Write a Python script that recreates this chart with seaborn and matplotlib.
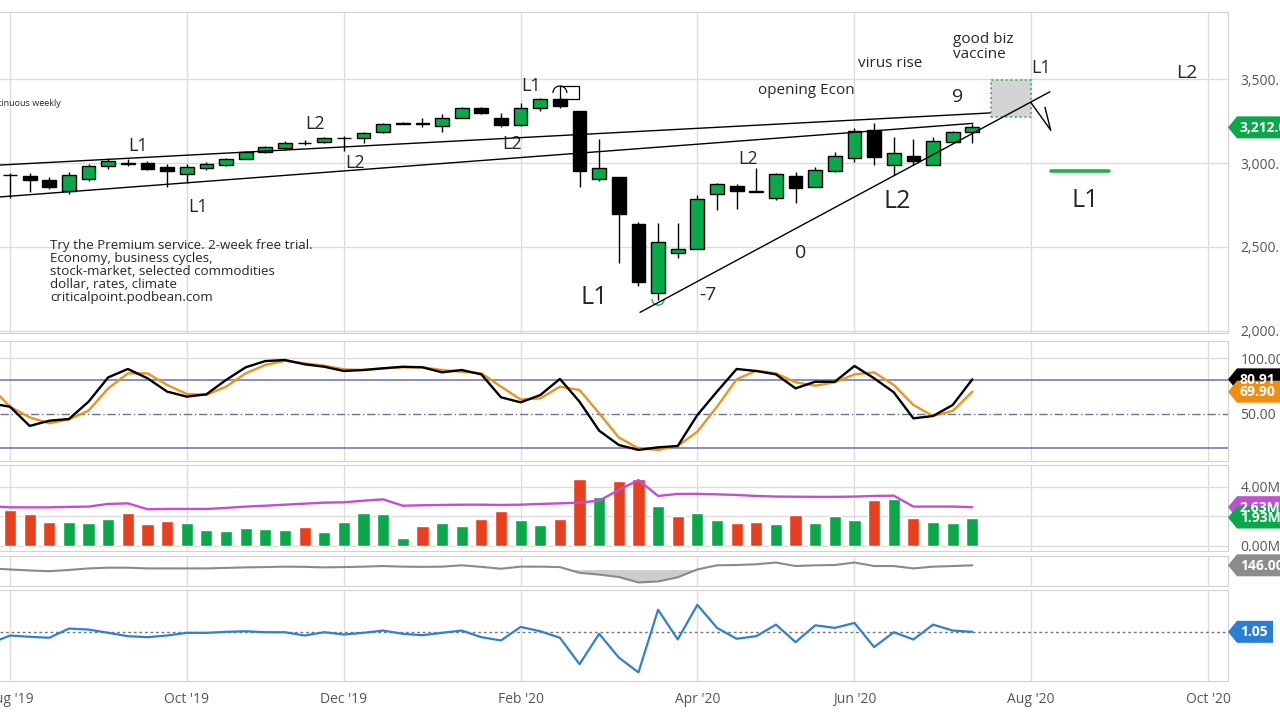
import numpy as np
import matplotlib
matplotlib.use('Agg')
import matplotlib.pyplot as plt
import seaborn as sns
from matplotlib.patches import Polygon, Rectangle, Arc
from matplotlib.transforms import IdentityTransform

# weekly candles, week 0 = first week of Aug 2019
opens = [2929, 2923, 2899, 2833, 2905, 2982, 2999, 3002, 2978, 2935,
         2968, 2988, 3024, 3065, 3091, 3122, 3123, 3148, 3147, 3183,
         3232, 3237, 3220, 3270, 3326, 3270, 3226, 3326, 3381, 3311,
         2903, 2918, 2637, 2228, 2467, 2488, 2814, 2865, 2831, 2794,
         2925, 2859, 2954, 3028, 3196, 2988, 3042, 2988, 3127, 3186]
closes = [2927, 2899, 2857, 2929, 2982, 3014, 2997, 2962, 2952, 2975,
          2994, 3022, 3065, 3093, 3121, 3120, 3147, 3146, 3177, 3230,
          3238, 3235, 3266, 3326, 3296, 3226, 3326, 3379, 3339, 2954,
          2968, 2696, 2294, 2528, 2486, 2783, 2873, 2835, 2829, 2932,
          2850, 2958, 3043, 3190, 3038, 3061, 3012, 3131, 3183, 3212]
highs = [2940, 2940, 2917, 2946, 2994, 3024, 3024, 3012, 2994, 2994,
         3008, 3032, 3071, 3101, 3131, 3137, 3157, 3160, 3186, 3236,
         3246, 3266, 3290, 3332, 3335, 3296, 3359, 3389, 3395, 3311,
         3141, 2918, 2651, 2640, 2641, 2810, 2883, 2873, 2968, 2938,
         2948, 2978, 3067, 3210, 3236, 3157, 3143, 3157, 3190, 3230]
lows = [2792, 2827, 2845, 2815, 2893, 2964, 2982, 2958, 2859, 2883,
        2958, 2982, 3022, 3061, 3077, 3107, 3117, 3073, 3121, 3181,
        3230, 3212, 3187, 3266, 3290, 3217, 3222, 3310, 3330, 2859,
        2893, 2403, 2268, 2185, 2433, 2488, 2720, 2724, 2825, 2780,
        2764, 2855, 2948, 3008, 2988, 2929, 2988, 2988, 3121, 3121]

volume = [2.44, 2.17, 1.65, 1.60, 1.54, 1.83, 2.21, 1.49, 1.69, 1.54,
          1.08, 1.04, 1.24, 1.15, 1.08, 1.27, 0.97, 1.65, 2.26, 2.15,
          0.56, 1.36, 1.58, 1.36, 1.83, 2.37, 1.76, 1.42, 1.81, 4.54,
          3.34, 4.43, 4.52, 2.73, 2.03, 2.21, 1.76, 1.58, 1.65, 1.47,
          2.10, 1.58, 2.03, 1.76, 3.12, 3.16, 1.88, 1.60, 1.54, 1.93]
vol_dir = list("rrrgggrrrggggggrggggg" "rggrrggrrgrrgrggrrgrgggrgrggg")

# indicator series start one week earlier (week -1)
stoch_k = [59.5, 56.5, 39.3, 44, 45.5, 61, 82.7, 90.2, 81.9, 70, 65.5,
           67.6, 80.4, 91.7, 97.3, 98.2, 94.4, 92.2, 88.4, 89.3, 90.8,
           92.2, 91.7, 87.2, 89.3, 85.4, 64.9, 60.4, 66.9, 81.3, 61,
           35.1, 22.3, 17.9, 20.2, 21.4, 49.1, 70, 90.2, 88.4, 85.4,
           72.9, 78.8, 78.8, 92.9, 81.9, 69.4, 46.1, 48.2, 58, 80.91]
stoch_d = [74.5, 56.5, 47, 41.7, 45.2, 53, 72.9, 86.3, 86.3, 75.9, 67.9,
           67, 74.4, 86.3, 93.8, 97.6, 95.2, 93.2, 89.9, 89.3, 90.8,
           91.7, 91.7, 89.3, 87.8, 86.3, 74.4, 63, 63.9, 74.4, 71.4,
           50.6, 29, 19.3, 17.9, 21.4, 34.2, 56.5, 81, 88.7, 86.3,
           78.3, 75.3, 78.3, 85.4, 87.2, 75.9, 58, 48.2, 52.7, 69.90]
vol_ma = [2.7, 2.62, 2.62, 2.62, 2.65, 2.67, 2.85, 2.89, 2.49, 2.51, 2.51,
          2.51, 2.58, 2.67, 2.73, 2.80, 2.87, 2.94, 2.96, 3.07, 3.16,
          2.73, 2.76, 2.78, 2.80, 2.80, 2.78, 2.80, 2.85, 2.89, 2.94,
          3.07, 3.80, 4.47, 3.39, 3.53, 3.53, 3.50, 3.46, 3.39, 3.35,
          3.34, 3.33, 3.33, 3.35, 3.39, 3.41, 2.67, 2.67, 2.67, 2.63]
force = [116, 106, 96, 89, 101, 116, 123, 123, 116, 116, 116,
         116, 121, 126, 129, 133, 131, 126, 129, 133, 139,
         133, 131, 133, 146, 131, 113, 133, 133, 129, 73,
         56, 33, -20, -10, 30, 106, 146, 149, 156, 173,
         139, 146, 149, 173, 139, 139, 116, 133, 139, 146]
ratio = [0.93, 1.01, 0.997, 0.987, 1.08, 1.07, 1.037, 1.003, 0.993, 1.01, 1.037,
         1.037, 1.047, 1.053, 1.043, 1.043, 1.01, 1.043, 1.02, 1.037, 1.06,
         1.027, 1.013, 1.037, 1.06, 0.993, 0.96, 1.097, 1.053, 0.987, 0.72,
         1.027, 0.787, 0.637, 1.27, 0.97, 1.32, 1.087, 0.977, 1.003, 1.12,
         0.943, 1.113, 1.087, 1.137, 0.893, 1.043, 0.97, 1.12, 1.06, 1.047]

tick_pos = [0, 9, 17, 26, 35, 43, 52, 61]
tick_labels = ["Aug '19", "Oct '19", "Dec '19", "Feb '20", "Apr '20",
               "Jun '20", "Aug '20", "Oct '20"]

# hand drawn trend lines (week, price)
upper_chan = ([-0.51, 49.9], [2988, 3298])
lower_chan = ([-0.51, 49.03], [2798, 3236])
support = ([32.08, 52.95], [2111, 3424])

weeks = np.arange(len(opens))
weeks_ind = np.arange(-1, len(opens))

sns.set_style('white')
plt.rcParams['font.family'] = ['Open Sans', 'DejaVu Sans']

GREEN = '#0ba84a'
RED = '#e8401f'
GRID = '#dcdcdc'
TXT = '#555555'
SLATE = '#6e6eb0'

fig = plt.figure(figsize=(12.8, 7.2), dpi=100)


def panel(top, bottom):
    ax = fig.add_axes([0, 1 - bottom / 720, 1228 / 1280, (bottom - top) / 720])
    ax.set_xlim(-0.51, 62.02)
    ax.set_xticks(tick_pos)
    ax.grid(axis='x', color=GRID, lw=1)
    ax.grid(axis='y', visible=False)
    for s in ax.spines.values():
        s.set_color('#d2d2d2')
    ax.spines['left'].set_visible(False)
    ax.tick_params(axis='x', length=0, labelbottom=False)
    ax.yaxis.tick_right()
    ax.tick_params(axis='y', length=0, pad=9, labelsize=10, labelcolor=TXT)
    return ax


# ---- price panel
ax_p = panel(12, 333)
ax_p.set_ylim(1988, 3899)
for v in [2000, 2500, 3000, 3500]:
    ax_p.axhline(v, color=GRID, lw=1, zorder=0)
ax_p.set_yticks([2000, 2500, 3000, 3500], ['2,000.00', '2,500.00', '3,000.00', '3,500.00'])

ax_p.vlines(weeks, lows, highs, color='black', lw=1, zorder=2)
body_lo = np.minimum(opens, closes)
body_h = np.maximum(np.abs(np.array(closes) - np.array(opens)), 2)
cols = [GREEN if c > o else 'black' for o, c in zip(opens, closes)]
ax_p.bar(weeks, body_h, bottom=body_lo, width=0.7, color=cols,
         edgecolor='black', linewidth=1, zorder=3)

for xs, ys in [upper_chan, lower_chan, support]:
    ax_p.plot(xs, ys, color='black', lw=1, zorder=4)
ax_p.plot([51.99, 52.99], [3359, 3196], color='black', lw=1)
ax_p.plot([52.7, 52.99], [3332, 3196], color='black', lw=1)
ax_p.add_patch(Rectangle((49.93, 3276), 2.06, 218, fc='#d4d4d4',
                         ec='#3cb35a', ls=':', lw=1.3, zorder=1))
ax_p.plot([52.99, 55.97], [2952, 2952], color='#22b04a', lw=2.6)
ax_p.add_patch(Arc((33, 2190), 0.62, 72, theta1=180, theta2=360, color='#22b04a', lw=1))
ax_p.add_patch(Rectangle((28.0, 3379), 0.99, 79, fill=False, ec='black', lw=0.9))
ax_p.add_patch(Arc((28, 3417), 0.71, 83, theta1=0, theta2=180, color='black', lw=0.9))

ax_p.text(-1.37, 3357, 'continuous weekly', fontsize=6.5, va='center', clip_on=True)
labels = [("L1", 6.52, 3101, 13), ("L1", 9.57, 2738, 13), ("L2", 15.53, 3232, 13),
          ("L2", 17.57, 3000, 13), ("L2", 25.56, 3113, 13), ("L1", 26.53, 3458, 13),
          ("L1", 29.74, 2202, 18), ("-7", 35.54, 2214, 14), ("L2", 37.58, 3024, 13),
          ("0", 40.27, 2464, 14), ("opening Econ", 40.53, 3429, 11),
          ("virus rise", 44.81, 3595, 11), ("9", 48.27, 3393, 14),
          ("L1", 52.5, 3565, 13), ("L2", 59.9, 3536, 14),
          ("L2", 45.16, 2768, 18), ("L1", 54.74, 2774, 18)]
for s, x, y, fs in labels:
    ax_p.text(x, y, s, fontsize=fs, ha='center', va='center')
ax_p.text(48.0, 3690, 'good biz\nvaccine', fontsize=11, ha='left', va='center',
          linespacing=1.0)
ax_p.text(2.04, 2550, 'Try the Premium service. 2-week free trial.\n'
          'Economy, business cycles,\nstock-market, selected commodities\n'
          'dollar, rates, climate\ncriticalpoint.podbean.com',
          fontsize=9.6, ha='left', va='top', linespacing=1.0)

# ---- stochastic panel
ax_s = panel(341, 461)
ax_s.set_ylim(8, 115.2)
ax_s.axhline(100, color=GRID, lw=1, zorder=0)
ax_s.axhline(80, color=SLATE, lw=1.1)
ax_s.axhline(20, color=SLATE, lw=1.1)
ax_s.axhline(50, color=SLATE, lw=1, ls=(0, (6, 2, 1, 2)))
ax_s.set_yticks([100, 50], ['100.00', '50.00'])
sns.lineplot(x=weeks_ind, y=stoch_d, color='#eb951f', linewidth=1.7, ax=ax_s)
sns.lineplot(x=weeks_ind, y=stoch_k, color='black', linewidth=1.7, ax=ax_s)
ax_s.set_xlim(-0.51, 62.02)

# ---- volume panel
ax_v = panel(465, 551)
ax_v.set_ylim(-0.34, 5.49)
for v in [0, 2, 4]:
    ax_v.axhline(v, color=GRID, lw=1, zorder=0)
ax_v.set_yticks([4, 0], ['4.00M', '0.00M'])
ax_v.bar(weeks, volume, width=0.62, color=[GREEN if d == 'g' else RED for d in vol_dir],
         zorder=2)
sns.lineplot(x=weeks_ind, y=vol_ma, color='#c24fd2', linewidth=1.7, ax=ax_v)
ax_v.set_xlim(-0.51, 62.02)

# ---- force panel
ax_f = panel(556, 586)
ax_f.set_ylim(-54, 236)
ax_f.set_yticks([])
ax_f.fill_between(weeks_ind, force, 100, where=np.array(force) < 100,
                  interpolate=True, color='#cdcdcd', lw=0)
sns.lineplot(x=weeks_ind, y=force, color='#8a8a8a', linewidth=1.5, ax=ax_f)
ax_f.set_xlim(-0.51, 62.02)

# ---- ratio panel
ax_r = panel(590, 681)
ax_r.set_ylim(0.55, 1.47)
ax_r.set_yticks([])
ax_r.axhline(1.05, color='#777777', lw=1, ls=(0, (2, 2)))
sns.lineplot(x=weeks_ind, y=ratio, color='#2f80d2', linewidth=1.6, ax=ax_r)
ax_r.set_xlim(-0.51, 62.02)
ax_r.set_xticks(tick_pos, tick_labels)
ax_r.tick_params(axis='x', labelbottom=True, length=0, pad=8, labelsize=10,
                 labelcolor=TXT)

for a in [ax_p, ax_s, ax_v, ax_f, ax_r]:
    a.set_xlabel('')
    a.set_ylabel('')


# ---- last value tags on the right scale
def tag(ax, value, text, color, width=60):
    y = ax.transData.transform((0, value))[1]
    x0 = 1228
    pts = [(x0, y), (x0 + 9, y + 11), (x0 + width, y + 11),
           (x0 + width, y - 11), (x0 + 9, y - 11)]
    fig.add_artist(Polygon(pts, closed=True, fc=color, ec='none',
                           transform=IdentityTransform()))
    fig.text(1240, y - 0.5, text, color='white', fontsize=10, fontweight='bold',
             va='center', ha='left', transform=IdentityTransform())


tag(ax_p, closes[-1], '3,212.00', '#0aa84a')
tag(ax_s, stoch_k[-1], '80.91', 'black')
tag(ax_s, stoch_d[-1], '69.90', '#ee8e12')
tag(ax_v, vol_ma[-1], '2.63M', '#c24fd2')
tag(ax_v, volume[-1], '1.93M', '#0aa84a')
tag(ax_f, force[-1], '146.00', '#8c8c8c')
tag(ax_r, ratio[-1], '1.05', '#2a7fd4', width=45)

fig.savefig('out.png', dpi=100)
